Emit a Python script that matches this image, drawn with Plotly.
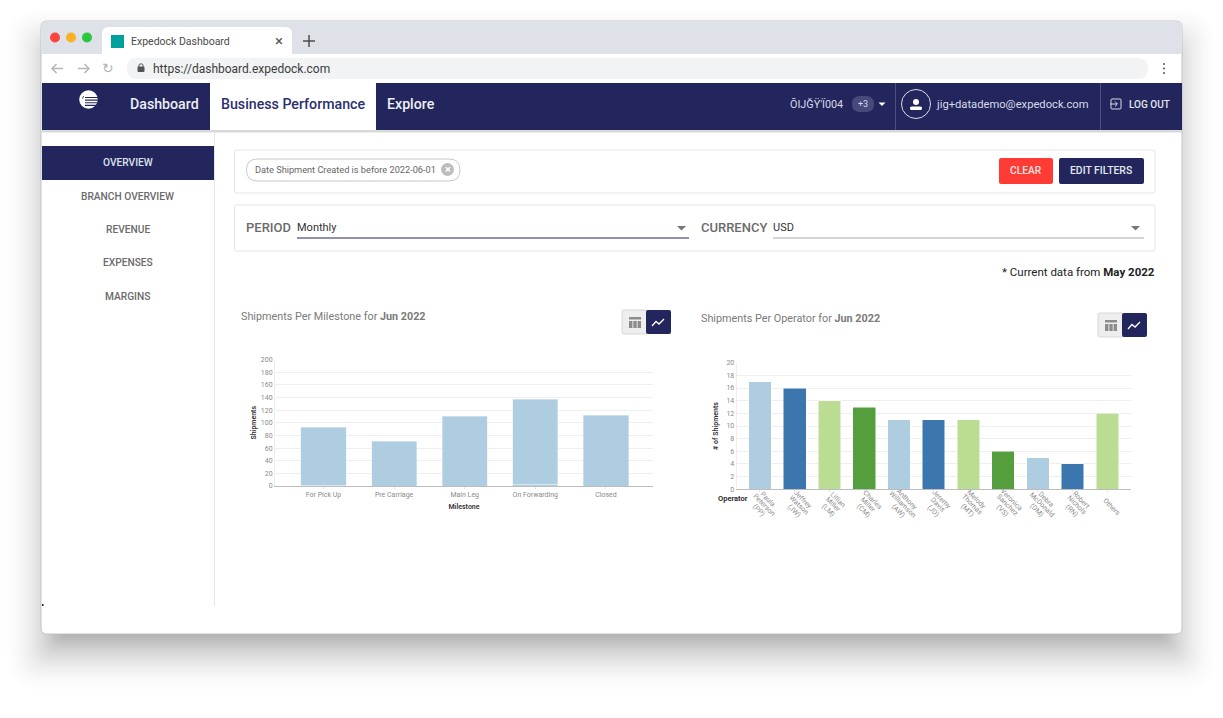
import plotly.graph_objects as go

W, H = 1223, 718

milestones = ["For Pick Up", "Pre Carriage", "Main Leg", "On Forwarding", "Closed"]
milestone_base = [1, None, None, 3, None]
milestone_rest = [92, 71, 110, 134, 112]

operators = ["Paula Peterson (PP)", "Jeffrey Watson (JW)", "Lillian Miller (LM)",
             "Charles Miller (CM)", "Anthony Williamson (AW)", "Jeremy Davis (JD)",
             "Melody Thomas (MT)", "Veronica Sanchez (VS)", "Debra McDonald (DM)",
             "Robert Nichols (RN)", "Others"]
operator_shipments = [17, 16, 14, 13, 11, 11, 11, 6, 5, 4, 12]
operator_colors = ["#aecde1", "#3b76af", "#bbdd93", "#559e3e"] * 2 + ["#aecde1", "#3b76af", "#bbdd93"]

NAVY = "#22265c"
GREY = "#7a7a7a"
shapes, notes = [], []


def px(x):
    return x / W


def py(y):
    return 1 - y / H


def path(d, fill=None, line=None, lw=1, opacity=1):
    shapes.append(dict(type="path", path=d, xref="paper", yref="paper", layer="below", opacity=opacity,
                       fillcolor=fill or "rgba(0,0,0,0)",
                       line=dict(color=line or "rgba(0,0,0,0)", width=lw if line else 0)))


def poly(pts, fill=None, line=None, lw=1, close=False):
    d = "M" + " L".join(f"{px(a):.5f},{py(b):.5f}" for a, b in pts)
    path(d + (" Z" if close else ""), fill, line, lw)


def rrect(x0, y0, x1, y1, r=0, fill=None, line=None, lw=1, opacity=1, top_only=False):
    rb = 0 if top_only else r
    d = (f"M{px(x0 + r):.5f},{py(y0):.5f} L{px(x1 - r):.5f},{py(y0):.5f} "
         f"Q{px(x1):.5f},{py(y0):.5f} {px(x1):.5f},{py(y0 + r):.5f} "
         f"L{px(x1):.5f},{py(y1 - rb):.5f} Q{px(x1):.5f},{py(y1):.5f} {px(x1 - rb):.5f},{py(y1):.5f} "
         f"L{px(x0 + rb):.5f},{py(y1):.5f} Q{px(x0):.5f},{py(y1):.5f} {px(x0):.5f},{py(y1 - rb):.5f} "
         f"L{px(x0):.5f},{py(y0 + r):.5f} Q{px(x0):.5f},{py(y0):.5f} {px(x0 + r):.5f},{py(y0):.5f} Z")
    path(d, fill, line, lw, opacity)


def circle(cx, cy, r, fill=None, line=None, lw=1):
    shapes.append(dict(type="circle", xref="paper", yref="paper", layer="below",
                       x0=px(cx - r), x1=px(cx + r), y0=py(cy + r), y1=py(cy - r),
                       fillcolor=fill or "rgba(0,0,0,0)",
                       line=dict(color=line or "rgba(0,0,0,0)", width=lw if line else 0)))


def text(x, y, s, size=11, color="#333", anchor="left", weight=None, font="Roboto"):
    notes.append(dict(x=px(x), y=py(y), xref="paper", yref="paper", text=s, showarrow=False,
                      xanchor=anchor, yanchor="middle", borderpad=0, borderwidth=0,
                      font=dict(family=font, size=size, color=color, weight=weight)))


# window shadow, soft falloff built from stacked layers (fainter further out)
for grow in range(36, -24, -2):
    rrect(41 - grow, 21 + 22 - grow, 1182 + grow, 634 + 22 + grow, max(4, 14 + grow / 2), fill="black",
          opacity=0.0015 + (36 - grow) * 0.00032)

# window and browser chrome
rrect(41, 21, 1182, 634, 6, fill="white", line="#b9b9b9", lw=0.8)
rrect(41.5, 21.5, 1181.5, 54, 6, fill="#dee1e7", top_only=True)
circle(55, 37.5, 5, fill="#f8453f")
circle(71, 37.5, 5, fill="#fbb124")
circle(87, 37.5, 5, fill="#2bc63f")
rrect(102, 27, 292, 54, 7, fill="white", top_only=True)
rrect(111, 35, 124, 48, 0, fill="#00a19a")
text(131, 41.5, "Expedock Dashboard", 10.5, "#4a4a4a")
text(279, 41, "×", 15, "#555", "center")
poly([(303, 41), (315, 41)], line="#444", lw=1.4)
poly([(309, 35), (309, 47)], line="#444", lw=1.4)
poly([(63, 68.5), (52, 68.5)], line="#b5b5b5", lw=1.5)
poly([(56.5, 64), (52, 68.5), (56.5, 73)], line="#b5b5b5", lw=1.5)
poly([(78, 68.5), (89, 68.5)], line="#b5b5b5", lw=1.5)
poly([(84.5, 64), (89, 68.5), (84.5, 73)], line="#b5b5b5", lw=1.5)
text(108, 68, "↻", 14, "#b5b5b5", "center", font="DejaVu Sans")
rrect(127, 58, 1148, 79, 10, fill="#f1f3f4")
rrect(137.5, 66.5, 144.5, 72, 1, fill="#555")
circle(141, 66, 2.2, line="#555", lw=1)
text(153, 68.5, "https://dashboard.expedock.com", 12, "#3c3c3c")
for yy in (64, 68.5, 73):
    circle(1164, yy, 1, fill="#555")

# top navigation
rrect(42, 130, 1182, 132.5, 0, fill="#d9d9d9")
rrect(42, 83, 1182, 130, 0, fill=NAVY)
rrect(210, 83, 376, 130, 0, fill="white")
circle(88.5, 99.5, 9.3, fill="white")
for yy in (97, 99.6, 102.2, 104.8):
    rrect(85, yy, 98.5, yy + 1.1, 0, fill=NAVY)
poly([(82, 98.5), (83.2, 96), (84, 96), (83, 98.5)], fill=NAVY, close=True)
text(130, 104, "Dashboard", 14.2, "#eceef5", weight=500)
text(221, 104, "Business Performance", 14.2, "#2b2f6e", weight=500)
text(387, 104, "Explore", 14.2, "#eceef5", weight=500)
text(790, 104, "ÕIJĞŸ'Ï004", 10.8, "#d8dae8")
rrect(852, 96, 874, 112, 8, fill="#464a7c")
text(863, 104, "+3", 9, "#d8dae8", "center")
poly([(878.5, 102.5), (885.5, 102.5), (882, 106)], fill="white", close=True)
poly([(895.5, 83), (895.5, 130)], line="#4b4f80", lw=1)
poly([(1100.5, 83), (1100.5, 130)], line="#4b4f80", lw=1)
circle(916, 104, 14.5, line="#d8dae8", lw=1)
circle(916, 102, 3, fill="white")
rrect(910, 106.5, 922, 110, 1.5, fill="white")
text(936, 104, "jig+datademo@expedock.com", 11.2, "#d8dae8")
rrect(1111, 99, 1121, 109, 1, line="#d8dae8", lw=1)
poly([(1110, 104), (1117, 104)], line="#d8dae8", lw=1)
poly([(1115, 101.5), (1117.5, 104), (1115, 106.5)], line="#d8dae8", lw=1)
text(1129, 104, "LOG OUT", 10, "#e4e6f0", weight=500)

# sidebar
poly([(214.5, 132), (214.5, 606)], line="#e6e6e6", lw=1)
rrect(42, 604, 43.5, 606, 0, fill="#222")
rrect(42, 146, 214, 180, 0, fill=NAVY)
text(127.5, 162.5, "OVERVIEW", 10.2, "#dfe1ee", "center", weight=500)
for label, yy in [("BRANCH OVERVIEW", 196), ("REVENUE", 229), ("EXPENSES", 262.5), ("MARGINS", 296)]:
    text(127.5, yy, label, 10.2, "#6b6b6b", "center", weight=500)

# filter cards
rrect(234.5, 150, 1155, 193, 2, line="#e6e6e6")
rrect(246.5, 159, 460, 181, 11, line="#c9c9c9")
text(255, 170, "Date Shipment Created is before 2022-06-01", 9.2, "#666")
circle(447.5, 169.5, 6.5, fill="#bdbdbd")
text(447.5, 169.5, "×", 11, "white", "center", weight=700)
rrect(999, 158, 1053, 184, 2, fill="#ff3b36")
text(1026, 170.5, "CLEAR", 10.2, "#ffe3e1", "center", weight=500)
rrect(1059, 158, 1144, 184, 2, fill=NAVY)
text(1101, 170.5, "EDIT FILTERS", 10.4, "#e4e6f0", "center", weight=500)
rrect(234.5, 205, 1155, 251, 2, line="#e6e6e6")
text(246, 227, "PERIOD", 13, "#6b6b6b", weight=500)
text(297, 227, "Monthly", 11, "#333")
poly([(297, 238), (689, 238)], line=NAVY, lw=1.2)
poly([(677, 226), (686, 226), (681.5, 230.5)], fill="#777", close=True)
text(701, 227, "CURRENCY", 13, "#6b6b6b", weight=500)
text(773, 227, "USD", 11, "#333")
poly([(773, 238), (1144, 238)], line="#aaa", lw=1)
poly([(1131, 226), (1140, 226), (1135.5, 230.5)], fill="#777", close=True)
text(1155, 272, "* Current data from <b>May 2022</b>", 11.5, "#222", "right")

# chart headers and the table/graph toggles
text(241, 316, "Shipments Per Milestone for <b>Jun 2022</b>", 10.8, GREY)
text(701, 319, "Shipments Per Operator for <b>Jun 2022</b>", 10.8, GREY)
for bx, by in [(622, 310), (1098, 313)]:
    rrect(bx, by, bx + 26, by + 24, 2, fill="#eeeeee", line="#d8d8d8")
    rrect(bx + 24, by, bx + 49, by + 24, 2, fill=NAVY)
    rrect(bx + 7, by + 7, bx + 19, by + 9.5, 0, fill="#8c8c8c")
    for k in (0, 4.3, 8.6):
        rrect(bx + 7 + k, by + 11, bx + 10.4 + k, by + 18, 0, fill="#8c8c8c")
    poly([(bx + 30, by + 16), (bx + 34, by + 11.5), (bx + 37, by + 14), (bx + 42, by + 9)], line="white", lw=1.3)

tick = dict(family="Roboto", size=7, color="#8a8a8a")
title_font = dict(family="Roboto", size=7, color="#333", weight=600)

fig = go.Figure()
fig.add_trace(go.Bar(x=milestones, y=milestone_base, width=0.64, xaxis="x", yaxis="y",
                     marker=dict(color="#aecde1", line=dict(color="#e8f0f6", width=0.5))))
fig.add_trace(go.Bar(x=milestones, y=milestone_rest, width=0.64, xaxis="x", yaxis="y",
                     marker=dict(color="#aecde1", line=dict(color="#e8f0f6", width=0.5))))
fig.add_trace(go.Bar(x=operators, y=operator_shipments, width=0.65, xaxis="x2", yaxis="y2",
                     marker=dict(color=operator_colors, line=dict(color="white", width=0.5))))

text(748, 498.5, "Operator", 7.5, "#222", "right", weight=600)

# operator labels: tighter stacked lines than the axis can set, so one rotated text per line
for name in operators:
    parts = name.split(" ")
    mid = (len(parts) - 1) / 2
    for k, part in enumerate(parts):
        off = k - mid
        notes.append(dict(x=name, xref="x2", y=py(505 + off * 5.5 + (2 if len(parts) == 1 else 0)), yref="paper",
                          xshift=4 - off * 4.5, text=part, showarrow=False, textangle=45,
                          xanchor="center", yanchor="middle", font=tick))


def y_axis():
    return dict(showgrid=True, gridcolor="#eeeeee", gridwidth=1, showline=True, linecolor="#eeeeee",
                zeroline=False, ticks="", tickfont=tick, automargin=False)


fig.update_layout(
    width=W, height=H, margin=dict(l=0, r=0, t=0, b=0), autosize=False,
    paper_bgcolor="white", plot_bgcolor="rgba(0,0,0,0)", showlegend=False, barmode="stack",
    font=dict(family="Roboto"), shapes=shapes, annotations=notes,
    xaxis=dict(domain=[px(275), px(653)], range=[-0.687, 4.667], anchor="y", showgrid=False, showline=True,
               linecolor="#bdbdbd", ticks="outside", ticklen=2, tickcolor="#e4e4e4", tickfont=tick, automargin=False,
               title=dict(text="Milestone", font=title_font, standoff=5)),
    yaxis=dict(y_axis(), domain=[py(486), py(359.5)], range=[0, 200], dtick=20, anchor="x",
               title=dict(text="Shipments", font=title_font, standoff=3)),
    xaxis2=dict(domain=[px(736.7), px(1130.7)], range=[-0.67, 10.67], anchor="y2", showgrid=False, showline=True,
                linecolor="#bdbdbd", ticks="outside", ticklen=2, tickcolor="#e4e4e4", showticklabels=False,
                automargin=False),
    yaxis2=dict(y_axis(), domain=[py(489.3), py(362.7)], range=[0, 20], dtick=2, anchor="x2",
                title=dict(text="# of Shipments", font=title_font, standoff=6)),
)

fig.write_html("out.html", config=dict(displayModeBar=False), post_script="document.body.style.margin='0';")
